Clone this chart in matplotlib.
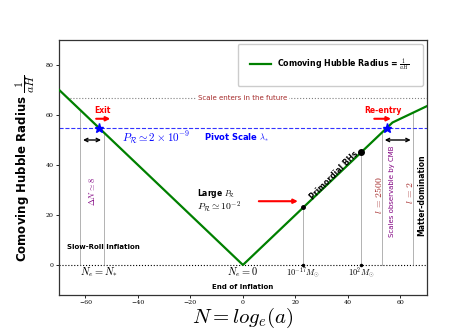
import numpy as np
import matplotlib
matplotlib.use("Agg")
from matplotlib import pyplot as plt

plt.rcParams["mathtext.fontset"] = "cm"
plt.rcParams["font.family"] = "DejaVu Sans"

# e-folds and comoving Hubble radius along the curve
N_curve = [-70, 0, 57, 70]
R_curve = [70, 0, 57, 63.5]

N_star = [-55, 55]          # horizon exit / re-entry of the pivot scale
pivot = 55
future = 67
N_cmb_left = [-62, -53]
N_cmb_right = [53, 65]
N_pbh = [23, 45]
pbh_labels = [r"$10^{-17}M_{\odot}$", r"$10^{2}M_{\odot}$"]

def radius(n):
    return np.interp(n, N_curve, R_curve)

fig, ax = plt.subplots(figsize=(4.74, 3.31), dpi=100)
fig.subplots_adjust(left=0.125, right=0.9, top=0.879, bottom=0.109)

ax.plot(N_curve, R_curve, color="green", lw=1.6,
        label=r"Comoving Hubble Radius = $\frac{1}{aH}$", zorder=3)

ax.axhline(0, color="black", ls=":", lw=0.8)
ax.axhline(pivot, color="blue", ls="--", lw=0.8, alpha=0.8)
ax.plot([-future, 70], [future, future], color="gray", ls=":", lw=0.8)
ax.text(0, future, "Scale enters in the future", color="brown", fontsize=5,
        ha="center", va="center", bbox=dict(fc="white", ec="none", pad=1))

ax.plot(N_star, [pivot, pivot], "*", color="blue", ms=6.5, zorder=4)

# CMB window at exit and re-entry
for n in N_cmb_left + N_cmb_right:
    ax.plot([n, n], [0, radius(n)], color="gray", lw=0.6, alpha=0.7)
for pair in [N_cmb_left, N_cmb_right]:
    ax.annotate("", xy=(pair[0], 50), xytext=(pair[1], 50),
                arrowprops=dict(arrowstyle="<->", color="black", lw=1,
                                mutation_scale=6))

for n in N_pbh:
    ax.plot([n, n], [0, radius(n)], color="gray", lw=0.6, alpha=0.7)
    ax.plot(n, 0, "o", color="black", ms=1.5)
ax.plot(N_pbh[0], radius(N_pbh[0]), "o", color="black", ms=2.5, zorder=4)
ax.plot(N_pbh[1], radius(N_pbh[1]), "o", color="black", ms=4, zorder=4)
for n, lab in zip(N_pbh, pbh_labels):
    ax.text(n, -3, lab, fontsize=6, ha="center", va="center")

# arrows
red_arrow = dict(arrowstyle="-|>", color="red", lw=1.5, mutation_scale=6)
ax.annotate("", xy=(-49.5, 58.5), xytext=(-57, 58.5), arrowprops=red_arrow)
ax.annotate("", xy=(57.5, 58.5), xytext=(49, 58.5), arrowprops=red_arrow)
ax.annotate("", xy=(22, 25.5), xytext=(5, 25.5), arrowprops=red_arrow)
ax.text(-53.5, 62, "Exit", color="red", fontsize=5.5, fontweight="bold",
        ha="center", va="center")
ax.text(53.5, 62, "Re-entry", color="red", fontsize=5.5, fontweight="bold",
        ha="center", va="center")

ax.text(-33, 51, r"$P_{\mathcal{R}} \simeq 2 \times 10^{-9}$", color="blue",
        fontsize=8, ha="center", va="center")
ax.text(-2.5, 51.2, r"Pivot Scale $\lambda_{*}$", color="blue", fontsize=6,
        fontweight="bold", ha="center", va="center")
ax.text(-17.5, 28.5, r"Large $P_{\mathcal{R}}$", fontsize=5.5,
        fontweight="bold", ha="left", va="center")
ax.text(-17.5, 23, r"$P_{\mathcal{R}} \simeq 10^{-2}$", fontsize=7,
        ha="left", va="center")
ax.text(25, 25.5, "Primordial BHs", fontsize=5.5, fontweight="bold",
        rotation=45, ha="left", va="bottom")

ax.text(-57.5, 29.5, r"$\Delta N \simeq 8$", color="purple", fontsize=6,
        rotation=90, ha="center", va="center")
ax.text(51.5, 28, r"$l\,=\,2500$", color="brown", fontsize=7,
        rotation=90, ha="center", va="center")
ax.text(57, 29.5, "Scales observable by CMB", color="purple", fontsize=5,
        rotation=90, ha="center", va="center")
ax.text(63.7, 29, r"$l\,=\,2$", color="brown", fontsize=7,
        rotation=90, ha="center", va="center")
ax.text(68, 28, "Matter-domination", fontsize=5.5, fontweight="bold",
        rotation=90, ha="center", va="center")

ax.text(-53, 7, "Slow-Roll Inflation", fontsize=5, fontweight="bold",
        ha="center", va="center")
ax.text(-55, -3, r"$N_e = N_{*}$", fontsize=7.5, ha="center", va="center")
ax.text(0, -3, r"$N_e = 0$", fontsize=7.5, ha="center", va="center")
ax.text(0, -9, "End of Inflation", fontsize=5, fontweight="bold",
        ha="center", va="center")

ax.set_xlim(-70, 70)
ax.set_ylim(-12, 90)
ax.set_xticks([-60, -40, -20, 0, 20, 40, 60])
ax.set_yticks([0, 20, 40, 60, 80])
ax.tick_params(labelsize=4.5, length=2, width=0.6, pad=2)
for lab in ax.get_xticklabels() + ax.get_yticklabels():
    lab.set_family("serif")
for sp in ax.spines.values():
    sp.set_linewidth(0.9)
    sp.set_color("#333333")

ax.set_xlabel(r"$N = log_e(a)$", fontsize=15, labelpad=0)
ax.set_ylabel(r"Comoving Hubble Radius $\dfrac{1}{aH}$", fontsize=8.5,
              fontweight="bold", labelpad=6)
ax.legend(loc="upper right", prop={"weight": "bold", "size": 5.7},
          borderpad=1.6, handlelength=2.6, framealpha=1)

plt.savefig("out.png", dpi=100)
